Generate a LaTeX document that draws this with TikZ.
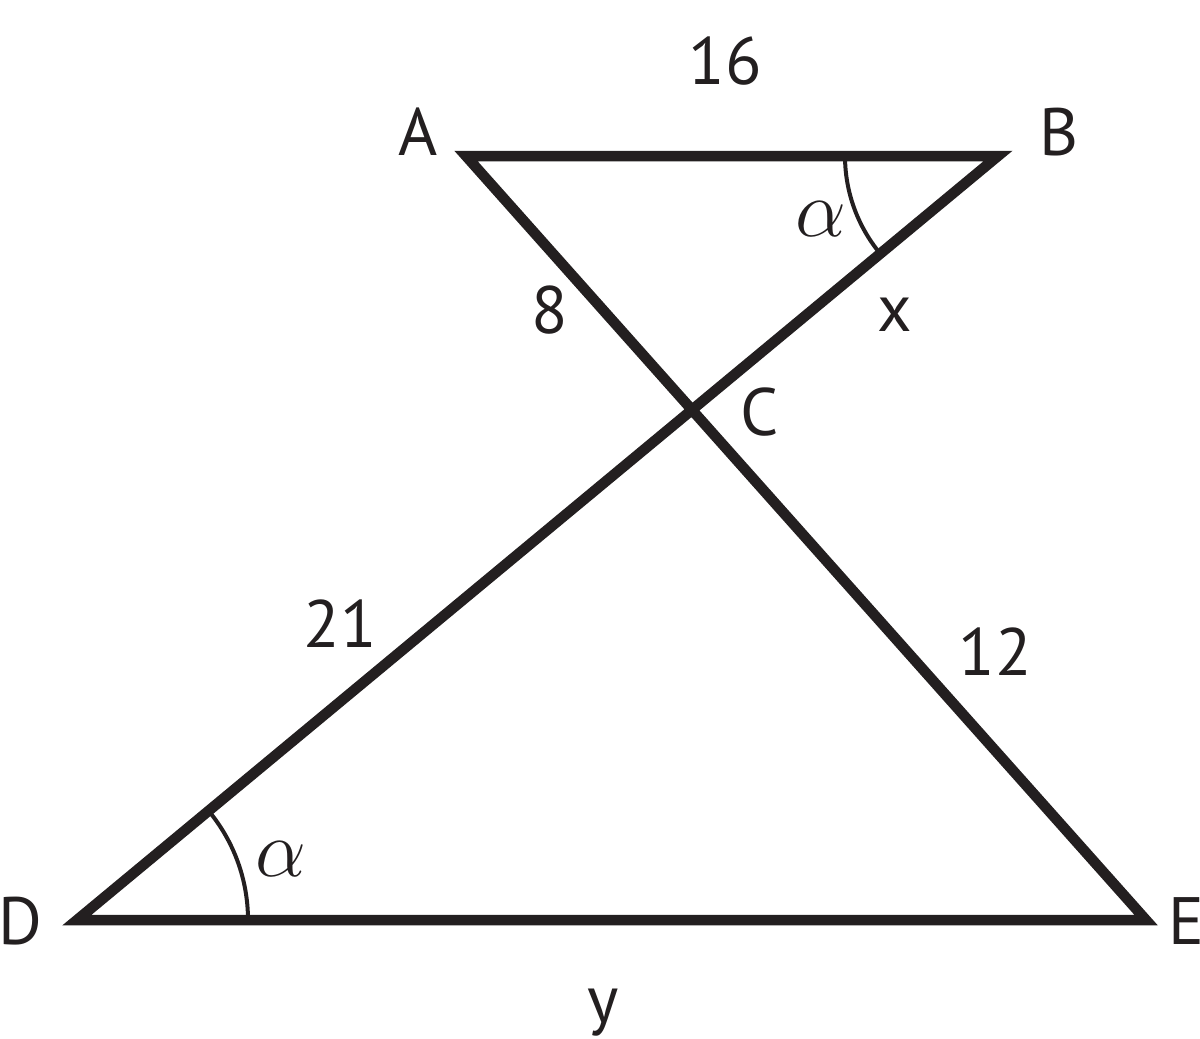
\documentclass[tikz,border=0pt]{standalone}
\usepackage{fontspec}
\setmainfont{PT Sans}
\definecolor{ink}{HTML}{231F20}
\begin{document}
\begin{tikzpicture}[x=1pt,y=-1pt,
  lbl/.style={inner sep=0pt,outer sep=0pt,text=ink,font=\fontsize{67}{70}\selectfont},
  ang/.style={inner sep=0pt,outer sep=0pt,text=ink,font=\fontsize{20}{24}\selectfont,scale=3.9},
  edge/.style={draw=ink,line width=10.5pt,line join=miter,miter limit=20},
  arcline/.style={draw=ink,line width=4pt}]
\useasboundingbox (0,0) rectangle (1200,1039);
\coordinate (A) at (466,156);
\coordinate (B) at (998,156);
\coordinate (D) at (77,920);
\coordinate (E) at (1146,920);
\draw[edge] (A) -- (B) -- (D) -- (E) -- cycle;
% angle arcs
\draw[arcline] ([xshift=-153pt]B) arc[start angle=180, end angle=219.7, radius=153pt];
\draw[arcline] ([xshift=171pt]D) arc[start angle=0, end angle=39.7, radius=171pt];
% vertex labels
\node[lbl] (lA) at (418,132) {A};
\node[lbl] (lB) at (1059,132) {B};
\node[lbl] (lC) at (760,412) {C};
\node[lbl] (lD) at (20,921) {D};
\node[lbl] (lE) at (1186,921) {E};
% side labels
\node[lbl] (l16) at (725,61) {16};
\node[lbl] (l8) at (550,310) {8};
\node[lbl] (lx) at (895,315) {x};
\node[lbl] (l21) at (340,624) {21};
\node[lbl] (l12) at (995,652) {12};
\node[lbl] (ly) at (603,1013) {y};
\node[ang] (a1) at (821,219) {$\alpha$};
\node[ang] (a2) at (281,859) {$\alpha$};
\end{tikzpicture}
\end{document}
